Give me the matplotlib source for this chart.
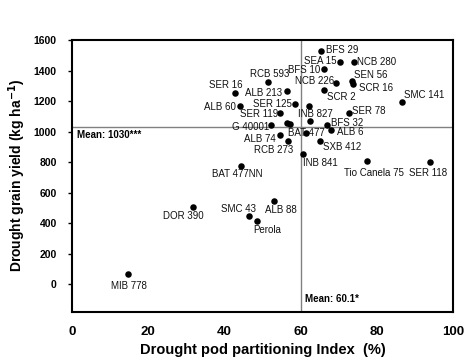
import matplotlib
matplotlib.use("Agg")
import matplotlib.pyplot as plt

plt.rcParams['font.family'] = ['Liberation Sans', 'DejaVu Sans']

# Data: drought pod partitioning index (%) and drought grain yield (kg/ha)
genotypes = ["BFS 29", "SEA 15", "NCB 280", "BFS 10", "RCB 593", "NCB 226",
             "SEN 56", "SCR 16", "SCR 2", "ALB 213", "SER 16", "SMC 141",
             "ALB 60", "SER 125", "INB 827", "", "SER 78", "SER 119",
             "G 40001", "", "", "BFS 32", "ALB 6", "BAT 477", "ALB 74",
             "RCB 273", "SXB 412", "INB 841", "Tio Canela 75", "SER 118",
             "BAT 477NN", "DOR 390", "SMC 43", "ALB 88", "Perola", "MIB 778"]
ppi = [65.4, 70.3, 74.1, 66.1, 51.5, 69.3,
       73.6, 73.8, 66.1, 56.3, 42.8, 86.6,
       44.0, 58.4, 62.2, 62.5, 72.7, 54.7,
       52.3, 56.3, 57.1, 66.9, 68.1, 61.3, 54.6,
       56.8, 65.1, 60.7, 77.5, 94.0,
       44.3, 31.7, 46.4, 52.9, 48.6, 14.8]
yield_ = [1528, 1454, 1458, 1410, 1325, 1320,
          1333, 1309, 1272, 1268, 1255, 1191,
          1169, 1180, 1169, 1071, 1119, 1119,
          1040, 1056, 1047, 1045, 1010, 988, 980,
          938, 940, 850, 809, 800,
          772, 509, 444, 546, 415, 64]
# label offsets (pixels) and alignment
label_dx = [5, -3, 3, -4, 1, -2, 2, 6, 3, -4, -9, 2,
            -4, -3, 6, 0, 3, -2, -2, 0, 0, 4, 6, 1, -4,
            5, 3, 0, 7, -2.5, -4, -9, -10, 7, 10, 1]
label_dy = [1, 1, 0, -1, 8, 2, 6, -4, -7, -2, 8, 7,
            -1, 0, -8, 0, 2, -1, -2, 0, 0, 2, -2, 0, -4,
            -9, -6, -9, -12, -11, -8, -9, 7, -9, -9, -12]
label_ha = ["left", "right", "left", "right", "center", "right",
            "left", "left", "left", "right", "center", "left",
            "right", "right", "center", "center", "left", "right",
            "right", "center", "center", "left", "left", "center", "right",
            "right", "left", "left", "center", "center",
            "center", "center", "center", "center", "center", "center"]

mean_ppi = 60.1
mean_yield = 1030
x_ticks = [0, 20, 40, 60, 80, 100]
y_ticks = [0, 200, 400, 600, 800, 1000, 1200, 1400, 1600]

fig = plt.figure(figsize=(4.74, 3.6), dpi=100)
ax = fig.add_axes([72/474, 1-311.7/360, (453-72)/474, (311.7-40)/360])

ax.axvline(mean_ppi, color='#808080', lw=1.0, zorder=1)
ax.axhline(mean_yield, color='#808080', lw=1.0, zorder=1)
ax.scatter(ppi, yield_, s=22, color='black', zorder=3, linewidths=0)

for name, x, y, dx, dy, ha in zip(genotypes, ppi, yield_, label_dx, label_dy, label_ha):
    if name:
        ax.annotate(name, (x, y), xytext=(dx, dy), textcoords='offset pixels',
                    ha=ha, va='center', fontsize=7, color='#111111')

ax.text(1.2, mean_yield - 20, "Mean: 1030***", fontsize=7, fontweight='bold',
        ha='left', va='top')
ax.text(mean_ppi + 1.0, -95, "Mean: 60.1*", fontsize=7, fontweight='bold',
        ha='left', va='center')

ax.set_xlim(0, 100)
ax.set_ylim(-180, 1600)
ax.set_xticks(x_ticks)
ax.set_yticks(y_ticks)
ax.tick_params(axis='x', length=0, pad=10, labelsize=9.5)
ax.tick_params(axis='y', length=3, width=1, direction='out', labelsize=7.5, pad=8)
for lbl in ax.get_xticklabels() + ax.get_yticklabels():
    lbl.set_fontweight('bold')
for s in ax.spines.values():
    s.set_linewidth(1.5)

ax.set_xlabel("Drought pod partitioning Index  (%)", fontsize=10.5,
              fontweight='bold', labelpad=4)
ax.set_ylabel("Drought grain yield (kg ha$^{\\mathbf{-1}}$)", fontsize=10,
              fontweight='bold', labelpad=4)

fig.savefig("out.png", dpi=100)
